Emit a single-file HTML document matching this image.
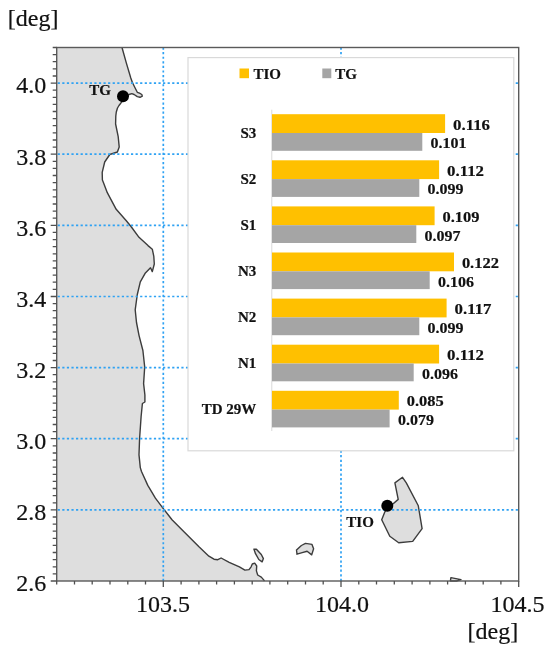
<!DOCTYPE html>
<html><head><meta charset="utf-8"><title>Map</title>
<style>html,body{margin:0;padding:0;background:#fff}svg{display:block}text{font-family:"Liberation Serif",serif;fill:#111;stroke:#111;stroke-width:0.2px}.b{font-weight:bold;font-size:15px}.t{font-size:24px}</style></head><body>
<svg width="550" height="654" viewBox="0 0 550 654">
<rect width="550" height="654" fill="#fff"/>
<polygon points="122.0,47.5 126.3,62.9 130.8,78.0 132.3,82.3 135.0,87.7 137.3,92.3 139.5,93.2 141.8,94.5 142.3,96.1 140.0,97.3 137.3,96.6 134.1,94.5 131.8,93.6 129.1,94.5 127.0,96.0 121.4,102.3 119.0,105.5 117.5,108.0 116.3,112.0 115.8,116.0 115.6,124.0 118.2,136.7 119.2,146.9 117.4,152.0 109.8,154.5 104.7,162.0 102.2,172.3 102.4,180.0 103.4,182.5 107.3,192.7 116.2,209.3 126.3,220.7 131.4,227.0 139.0,237.3 148.0,245.6 152.3,249.2 153.8,256.3 154.3,264.0 152.3,271.6 150.5,267.8 145.4,272.9 140.3,281.8 137.3,294.5 135.2,309.8 136.5,322.5 139.0,335.3 142.9,350.5 144.7,367.0 143.6,383.6 144.9,395.0 144.9,402.0 142.4,403.5 141.1,416.7 139.6,438.3 139.0,454.9 140.3,467.6 141.5,471.5 147.8,485.4 155.4,498.2 163.1,508.3 172.0,519.8 184.7,532.5 198.7,546.5 208.9,556.2 214.0,559.2 217.8,559.7 221.1,558.0 229.2,562.3 239.4,566.9 244.9,570.1 249.0,569.6 251.1,566.8 252.3,564.0 254.7,563.2 256.7,566.0 256.4,570.9 257.7,575.0 261.3,577.1 263.7,579.9 264.5,581.0 56.7,581.0 56.7,47.5" fill="#dedede"/>
<polyline points="122.0,47.5 126.3,62.9 130.8,78.0 132.3,82.3 135.0,87.7 137.3,92.3 139.5,93.2 141.8,94.5 142.3,96.1 140.0,97.3 137.3,96.6 134.1,94.5 131.8,93.6 129.1,94.5 127.0,96.0 121.4,102.3 119.0,105.5 117.5,108.0 116.3,112.0 115.8,116.0 115.6,124.0 118.2,136.7 119.2,146.9 117.4,152.0 109.8,154.5 104.7,162.0 102.2,172.3 102.4,180.0 103.4,182.5 107.3,192.7 116.2,209.3 126.3,220.7 131.4,227.0 139.0,237.3 148.0,245.6 152.3,249.2 153.8,256.3 154.3,264.0 152.3,271.6 150.5,267.8 145.4,272.9 140.3,281.8 137.3,294.5 135.2,309.8 136.5,322.5 139.0,335.3 142.9,350.5 144.7,367.0 143.6,383.6 144.9,395.0 144.9,402.0 142.4,403.5 141.1,416.7 139.6,438.3 139.0,454.9 140.3,467.6 141.5,471.5 147.8,485.4 155.4,498.2 163.1,508.3 172.0,519.8 184.7,532.5 198.7,546.5 208.9,556.2 214.0,559.2 217.8,559.7 221.1,558.0 229.2,562.3 239.4,566.9 244.9,570.1 249.0,569.6 251.1,566.8 252.3,564.0 254.7,563.2 256.7,566.0 256.4,570.9 257.7,575.0 261.3,577.1 263.7,579.9 264.5,581.0" fill="none" stroke="#3c3c3c" stroke-width="1.4" stroke-linejoin="round"/>
<polygon points="402.5,477.3 394.9,482.9 398.2,499.4 392.3,504.5 387.3,507.0 384.7,512.2 381.7,519.8 389.8,536.3 398.7,542.7 412.7,541.4 422.1,528.7 418.3,505.8 406.3,482.9" fill="#dedede" stroke="#3c3c3c" stroke-width="1.4" stroke-linejoin="round"/>
<polygon points="253.9,549.1 256.4,549.3 261.3,554.5 263.4,558.6 262.1,561.9 258.8,559.5 255.5,553.7" fill="#dedede" stroke="#3c3c3c" stroke-width="1.4" stroke-linejoin="round"/>
<polygon points="296.5,550.0 301.4,545.5 305.5,543.4 312.0,544.4 313.6,548.8 311.7,554.9 307.1,551.3 302.2,552.6 297.0,554.2" fill="#dedede" stroke="#3c3c3c" stroke-width="1.4" stroke-linejoin="round"/>
<polygon points="450.9,577.6 461.0,579.6 456.5,581.0 450.4,581.0" fill="#dedede" stroke="#3c3c3c" stroke-width="1.4" stroke-linejoin="round"/>
<line x1="57.7" y1="509.9" x2="518.7" y2="509.9" stroke="#2fa2f3" stroke-width="1.7" stroke-dasharray="2.2 2.38"/>
<line x1="57.7" y1="438.7" x2="518.7" y2="438.7" stroke="#2fa2f3" stroke-width="1.7" stroke-dasharray="2.2 2.38"/>
<line x1="57.7" y1="367.6" x2="518.7" y2="367.6" stroke="#2fa2f3" stroke-width="1.7" stroke-dasharray="2.2 2.38"/>
<line x1="57.7" y1="296.5" x2="518.7" y2="296.5" stroke="#2fa2f3" stroke-width="1.7" stroke-dasharray="2.2 2.38"/>
<line x1="57.7" y1="225.3" x2="518.7" y2="225.3" stroke="#2fa2f3" stroke-width="1.7" stroke-dasharray="2.2 2.38"/>
<line x1="57.7" y1="154.2" x2="518.7" y2="154.2" stroke="#2fa2f3" stroke-width="1.7" stroke-dasharray="2.2 2.38"/>
<line x1="57.7" y1="83.1" x2="518.7" y2="83.1" stroke="#2fa2f3" stroke-width="1.7" stroke-dasharray="2.2 2.38"/>
<line x1="163.3" y1="47.5" x2="163.3" y2="581.0" stroke="#2fa2f3" stroke-width="1.7" stroke-dasharray="2.2 2.38"/>
<line x1="341.0" y1="47.5" x2="341.0" y2="581.0" stroke="#2fa2f3" stroke-width="1.7" stroke-dasharray="2.2 2.38"/>
<rect x="56.7" y="47.5" width="462.00000000000006" height="533.5" fill="none" stroke="#5a5a5a" stroke-width="1.4"/>
<path d="M56.7 581.0h-6M56.7 573.9h-4M56.7 566.8h-4M56.7 559.7h-4M56.7 552.5h-4M56.7 545.4h-4M56.7 538.3h-4M56.7 531.2h-4M56.7 524.1h-4M56.7 517.0h-4M56.7 509.9h-6M56.7 502.8h-4M56.7 495.6h-4M56.7 488.5h-4M56.7 481.4h-4M56.7 474.3h-4M56.7 467.2h-4M56.7 460.1h-4M56.7 453.0h-4M56.7 445.8h-4M56.7 438.7h-6M56.7 431.6h-4M56.7 424.5h-4M56.7 417.4h-4M56.7 410.3h-4M56.7 403.2h-4M56.7 396.1h-4M56.7 388.9h-4M56.7 381.8h-4M56.7 374.7h-4M56.7 367.6h-6M56.7 360.5h-4M56.7 353.4h-4M56.7 346.3h-4M56.7 339.1h-4M56.7 332.0h-4M56.7 324.9h-4M56.7 317.8h-4M56.7 310.7h-4M56.7 303.6h-4M56.7 296.5h-6M56.7 289.4h-4M56.7 282.2h-4M56.7 275.1h-4M56.7 268.0h-4M56.7 260.9h-4M56.7 253.8h-4M56.7 246.7h-4M56.7 239.6h-4M56.7 232.4h-4M56.7 225.3h-6M56.7 218.2h-4M56.7 211.1h-4M56.7 204.0h-4M56.7 196.9h-4M56.7 189.8h-4M56.7 182.7h-4M56.7 175.5h-4M56.7 168.4h-4M56.7 161.3h-4M56.7 154.2h-6M56.7 147.1h-4M56.7 140.0h-4M56.7 132.9h-4M56.7 125.7h-4M56.7 118.6h-4M56.7 111.5h-4M56.7 104.4h-4M56.7 97.3h-4M56.7 90.2h-4M56.7 83.1h-6M56.7 76.0h-4M56.7 68.8h-4M56.7 61.7h-4M56.7 54.6h-4M56.7 47.5h-4M56.7 581.0v3.5M74.5 581.0v3.5M92.2 581.0v3.5M110.0 581.0v3.5M127.8 581.0v3.5M145.5 581.0v3.5M163.3 581.0v6M181.1 581.0v3.5M198.9 581.0v3.5M216.6 581.0v3.5M234.4 581.0v3.5M252.2 581.0v3.5M269.9 581.0v3.5M287.7 581.0v3.5M305.5 581.0v3.5M323.2 581.0v3.5M341.0 581.0v6M358.8 581.0v3.5M376.5 581.0v3.5M394.3 581.0v3.5M412.1 581.0v3.5M429.9 581.0v3.5M447.6 581.0v3.5M465.4 581.0v3.5M483.2 581.0v3.5M500.9 581.0v3.5M518.7 581.0v6" stroke="#505050" stroke-width="1.3" fill="none"/>
<text class="t" x="46.2" y="591.3" text-anchor="end">2.6</text>
<text class="t" x="46.2" y="520.2" text-anchor="end">2.8</text>
<text class="t" x="46.2" y="449.0" text-anchor="end">3.0</text>
<text class="t" x="46.2" y="377.9" text-anchor="end">3.2</text>
<text class="t" x="46.2" y="306.8" text-anchor="end">3.4</text>
<text class="t" x="46.2" y="235.6" text-anchor="end">3.6</text>
<text class="t" x="46.2" y="164.5" text-anchor="end">3.8</text>
<text class="t" x="46.2" y="93.4" text-anchor="end">4.0</text>
<text class="t" x="163.0" y="612" text-anchor="middle">103.5</text>
<text class="t" x="341.9" y="612" text-anchor="middle">104.0</text>
<text class="t" x="517.4" y="612" text-anchor="middle">104.5</text>
<text class="t" x="7.8" y="26.2">[deg]</text>
<text class="t" x="467.6" y="639">[deg]</text>
<rect x="188" y="57.6" width="325.8" height="393.2" fill="#fff" stroke="#d9d9d9" stroke-width="1.2"/>
<rect x="239.5" y="68.5" width="9.5" height="9.7" fill="#ffc000"/><text class="b" x="253.5" y="78.6">TIO</text>
<rect x="322.3" y="68.5" width="9" height="9.7" fill="#a5a5a5"/><text class="b" x="335.3" y="78.6">TG</text>
<line x1="271.8" y1="109.7" x2="271.8" y2="431" stroke="#d9d9d9" stroke-width="1"/>
<rect x="272" y="114.2" width="173.1" height="18.8" fill="#ffc000"/><rect x="272" y="133.0" width="150.3" height="17.8" fill="#a5a5a5"/>
<text class="b" x="256.3" y="137.8" text-anchor="end">S3</text><text class="b" x="453.0" y="129.5" textLength="37" lengthAdjust="spacingAndGlyphs">0.116</text><text class="b" x="430.6" y="148.3" textLength="36" lengthAdjust="spacingAndGlyphs">0.101</text>
<rect x="272" y="160.3" width="167.1" height="18.8" fill="#ffc000"/><rect x="272" y="179.1" width="147.3" height="17.8" fill="#a5a5a5"/>
<text class="b" x="256.3" y="183.9" text-anchor="end">S2</text><text class="b" x="447.0" y="175.6" textLength="37" lengthAdjust="spacingAndGlyphs">0.112</text><text class="b" x="427.6" y="194.4" textLength="36" lengthAdjust="spacingAndGlyphs">0.099</text>
<rect x="272" y="206.4" width="162.6" height="18.8" fill="#ffc000"/><rect x="272" y="225.2" width="144.3" height="17.8" fill="#a5a5a5"/>
<text class="b" x="256.3" y="230.0" text-anchor="end">S1</text><text class="b" x="442.5" y="221.7" textLength="37" lengthAdjust="spacingAndGlyphs">0.109</text><text class="b" x="424.6" y="240.5" textLength="36" lengthAdjust="spacingAndGlyphs">0.097</text>
<rect x="272" y="252.5" width="182.0" height="18.8" fill="#ffc000"/><rect x="272" y="271.3" width="157.7" height="17.8" fill="#a5a5a5"/>
<text class="b" x="256.3" y="276.1" text-anchor="end">N3</text><text class="b" x="461.9" y="267.8" textLength="37" lengthAdjust="spacingAndGlyphs">0.122</text><text class="b" x="438.0" y="286.6" textLength="36" lengthAdjust="spacingAndGlyphs">0.106</text>
<rect x="272" y="298.6" width="174.6" height="18.8" fill="#ffc000"/><rect x="272" y="317.4" width="147.3" height="17.8" fill="#a5a5a5"/>
<text class="b" x="256.3" y="322.2" text-anchor="end">N2</text><text class="b" x="454.5" y="313.9" textLength="37" lengthAdjust="spacingAndGlyphs">0.117</text><text class="b" x="427.6" y="332.7" textLength="36" lengthAdjust="spacingAndGlyphs">0.099</text>
<rect x="272" y="344.7" width="167.1" height="18.8" fill="#ffc000"/><rect x="272" y="363.5" width="141.7" height="17.8" fill="#a5a5a5"/>
<text class="b" x="256.3" y="368.3" text-anchor="end">N1</text><text class="b" x="447.0" y="360.0" textLength="37" lengthAdjust="spacingAndGlyphs">0.112</text><text class="b" x="422.0" y="378.8" textLength="36" lengthAdjust="spacingAndGlyphs">0.096</text>
<rect x="272" y="390.8" width="126.8" height="18.8" fill="#ffc000"/><rect x="272" y="409.6" width="117.6" height="17.8" fill="#a5a5a5"/>
<text class="b" x="256.3" y="414.4" text-anchor="end">TD 29W</text><text class="b" x="406.7" y="406.1" textLength="37" lengthAdjust="spacingAndGlyphs">0.085</text><text class="b" x="397.9" y="424.9" textLength="36" lengthAdjust="spacingAndGlyphs">0.079</text>
<circle cx="123" cy="96.2" r="6" fill="#000"/><text class="b" x="89.2" y="94.7">TG</text>
<circle cx="387.3" cy="505.8" r="6" fill="#000"/><text class="b" x="346.3" y="527.4">TIO</text>
</svg>
</body></html>
